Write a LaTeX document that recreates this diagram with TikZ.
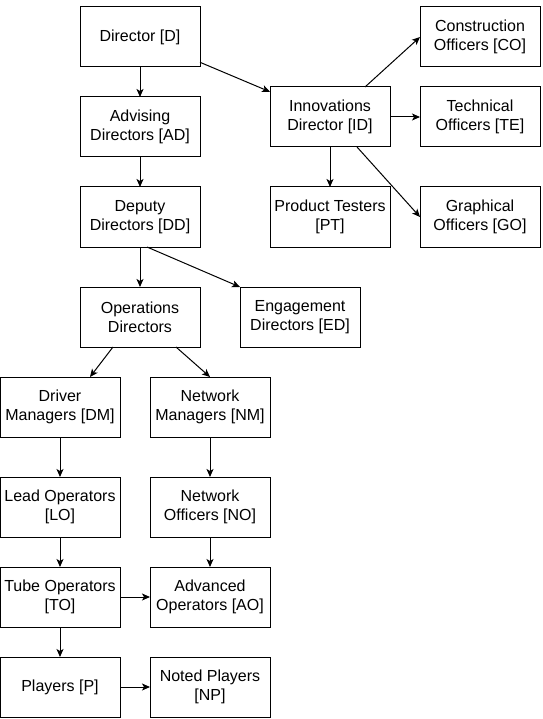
\documentclass[tikz,border=0pt]{standalone}
\usepackage{fontspec}
\setmainfont{Liberation Sans}
\usepackage{tikz}
\usetikzlibrary{positioning}
\usetikzlibrary{arrows.meta}

\begin{document}
\begin{tikzpicture}[main/.style = {draw, rectangle, line width=1pt, minimum width=120pt, minimum height=60pt, inner sep=0pt, outer sep=0pt, align=center, font=\fontsize{16}{19}\selectfont}, node distance=30pt, >={Stealth[length=8pt,width=7pt,inset=2pt]}, every edge/.style={draw, line width=1pt}]
\useasboundingbox (0,0) rectangle (542pt,-719pt);
\node[main] (D) at (140pt,-37pt) {Director [D]};
\node[main] (AD) [below=of D] {Advising\\Directors [AD]};
\node[main] (DD) [below=of AD] {Deputy\\Directors [DD]};
\node[main] (OD) [below=40pt of DD] {Operations\\Directors};
\node[main] (ED) [right=40pt of OD] {Engagement\\Directors [ED]};
\node[main] (ID) [below right=20pt and 70pt of D] {Innovations\\Director [ID]};
\node[main] (CO) [above right=20pt and 30pt of ID] {Construction\\Officers [CO]};
\node[main] (TE) [right=of ID] {Technical\\Officers [TE]};
\node[main] (GO) [below=40pt of TE] {Graphical\\Officers [GO]};
\node[main] (PT) [below=40pt of ID] {Product Testers\\{}[PT]};
\node[main] (DM) [below=of OD, xshift=-80pt] {Driver\\Managers [DM]};
\node[main] (NM) [below=of OD, xshift=70pt] {Network\\Managers [NM]};
\node[main] (LO) [below=40pt of DM] {Lead Operators\\{}[LO]};
\node[main] (NO) [below=40pt of NM] {Network\\Officers [NO]};
\node[main] (TO) [below=of LO] {Tube Operators\\{}[TO]};
\node[main] (AO) [right=of TO] {Advanced\\Operators [AO]};
\node[main] (P) [below=of TO] {Players [P]};
\node[main] (NP) [right=of P] {Noted Players\\{}[NP]};
% top part
\path (D) edge [->] (AD);
\path (AD) edge [->] (DD);
\path (D) edge [->] (ID);
\path ([xshift=35pt]ID.north) edge [->] (CO.west);
\path (ID) edge [->] (TE);
\path (ID) edge [->] (PT);
\path ([xshift=27pt]ID.south) edge [->] (GO.west);
\path (DD) edge [->] (OD);
\path ([xshift=7pt]DD.south) edge [->] (ED.north west);
% operations
\path ([xshift=-27pt]OD.south) edge [->] ([xshift=30pt]DM.north);
\path ([xshift=36pt]OD.south) edge [->] (NM.north);
\path (DM) edge [->] (LO);
\path (NM) edge [->] (NO);
\path (LO) edge [->] (TO);
\path (NO) edge [->] (AO);
\path (TO) edge [->] (AO);
\path (TO) edge [->] (P);
\path (P) edge [->] (NP);
\end{tikzpicture}
\end{document}
